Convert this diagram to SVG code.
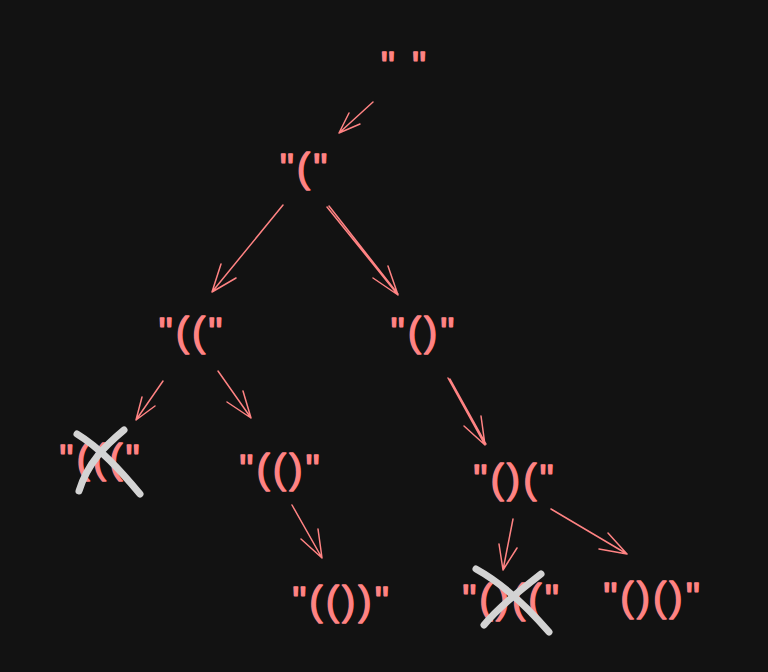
<svg xmlns="http://www.w3.org/2000/svg" width="768" height="672" viewBox="0 0 768 672">
<style>
.t{font-family:"Liberation Sans",Arial,sans-serif;font-size:40px;fill:#ff8383;stroke:#ff8383;stroke-width:1.3;stroke-linejoin:round;text-anchor:middle;letter-spacing:3px}
.a{fill:none;stroke:#ff8383;stroke-width:1.5;stroke-linecap:round;stroke-linejoin:round}
.x{fill:none;stroke:#d3d3d3;stroke-width:7;stroke-linecap:round}
</style>
<rect width="768" height="672" fill="#121212"/>
<g id="connectors">
<path class="a" d="M373,102 L339,133 M349,113 L339,133 L360,124"/>
<path class="a" d="M283,205 L212,292 M221,264 L212,292 L236,278"/>
<path class="a" d="M327,207 L398,295 M329,206 L398,294 M388,266 L398,295 L373,278"/>
<path class="a" d="M163,381 L136,420 M142,397 L136,420 L155,406"/>
<path class="a" d="M218,371 L251,418 M243,391 L251,418 L227,402"/>
<path class="a" d="M448,378 L485,445 M450,379 L486,444 M481,416 L485,445 L464,426"/>
<path class="a" d="M292,505 L322,558 M318,529 L322,558 L301,539"/>
<path class="a" d="M513,519 L503,570 M499,544 L503,570 L517,548"/>
<path class="a" d="M551,509 L627,554 M608,533 L627,554 L599,549"/>
</g>
<g id="n0"><text class="t" x="405" y="80">" "</text></g>
<g id="n1"><text class="t" x="305" y="182">"("</text></g>
<g id="n2"><text class="t" x="192" y="346">"(("</text></g>
<g id="n3"><text class="t" x="424" y="346">"()"</text></g>
<g id="n4"><text class="t" x="101" y="473">"((("</text>
<path class="x" d="M77,434 C100,448 120,470 140,494"/>
<path class="x" d="M124,430 C106,445 88,462 79,491"/></g>
<g id="n5"><text class="t" x="281" y="483">"(()"</text></g>
<g id="n6"><text class="t" x="515" y="493">"()("</text></g>
<g id="n7"><text class="t" x="342" y="615">"(())"</text></g>
<g id="n8"><text class="t" x="512" y="613">"()(("</text>
<path class="x" d="M476,569 C505,585 530,610 549,632"/>
<path class="x" d="M541,574 C518,592 498,608 484,625"/></g>
<g id="n9"><text class="t" x="653" y="611">"()()"</text></g>
</svg>
